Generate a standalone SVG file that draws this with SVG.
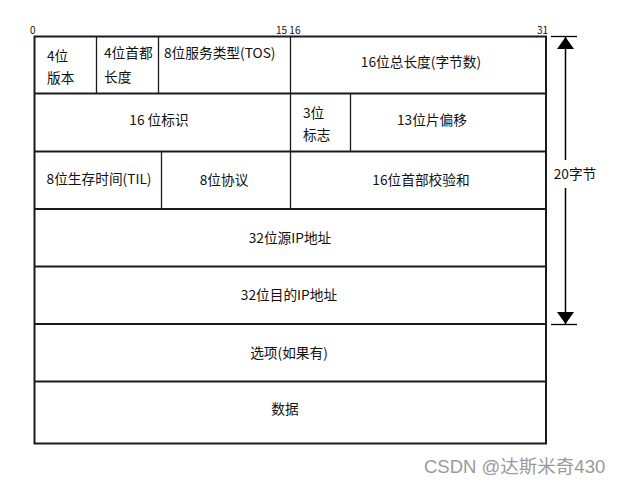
<svg xmlns="http://www.w3.org/2000/svg" width="626" height="483" viewBox="0 0 626 483">
<style>
text{font-family:"Noto Sans CJK SC","Microsoft YaHei",sans-serif;font-size:13.7px;fill:#111;}
.c{text-anchor:middle;}
.s{font-size:10px;}
.h{stroke:#1a1a1a;stroke-width:2;fill:none;}
.v{stroke:#1a1a1a;stroke-width:1.3;fill:none;}
.wm{fill:#9a9a9a;font-size:18.5px;font-family:"Liberation Sans","Noto Sans CJK SC",sans-serif;}
</style>
<defs>
<marker id="tri" markerWidth="13" markerHeight="18" refX="12" refY="8.5" orient="auto" markerUnits="userSpaceOnUse"><path d="M0,0 L12,8.5 L0,17 Z" fill="#000"/></marker>
</defs>
<rect width="626" height="483" fill="#fff"/>
<g id="scale">
<text class="s" x="30" y="34">0</text>
<text class="s" x="276" y="34">15 16</text>
<text class="s" x="537" y="34">31</text>
</g>
<g id="frame">
<rect x="34.5" y="36.5" width="511.5" height="407" class="h"/>
<line class="h" x1="34.5" y1="93.5" x2="546" y2="93.5"/>
<line class="h" x1="34.5" y1="151.5" x2="546" y2="151.5"/>
<line class="h" x1="34.5" y1="209" x2="546" y2="209"/>
<line class="h" x1="34.5" y1="266.5" x2="546" y2="266.5"/>
<line class="h" x1="34.5" y1="324" x2="546" y2="324"/>
<line class="h" x1="34.5" y1="381.5" x2="546" y2="381.5"/>
<line class="v" x1="96.5" y1="36.5" x2="96.5" y2="93.5"/>
<line class="v" x1="158.5" y1="36.5" x2="158.5" y2="93.5"/>
<line class="v" x1="290.5" y1="36.5" x2="290.5" y2="209"/>
<line class="v" x1="350.5" y1="93.5" x2="350.5" y2="151.5"/>
<line class="v" x1="161.5" y1="151.5" x2="161.5" y2="209"/>
</g>
<g id="version"><text x="47" y="61">4位</text><text x="47" y="83">版本</text></g>
<g id="ihl"><text x="104" y="58">4位首都</text><text x="104" y="82">长度</text></g>
<g id="tos"><text x="164" y="58">8位服务类型(TOS)</text></g>
<g id="totallen"><text class="c" x="421" y="67">16位总长度(字节数)</text></g>
<g id="ident"><text class="c" x="159" y="125">16 位标识</text></g>
<g id="flags"><text x="303" y="118">3位</text><text x="303" y="140">标志</text></g>
<g id="fragoff"><text class="c" x="432" y="125">13位片偏移</text></g>
<g id="ttl"><text class="c" x="99" y="184">8位生存时间(TIL)</text></g>
<g id="proto"><text class="c" x="224" y="185">8位协议</text></g>
<g id="checksum"><text class="c" x="421" y="185">16位首部校验和</text></g>
<g id="srcip"><text class="c" x="290" y="243">32位源IP地址</text></g>
<g id="dstip"><text class="c" x="289" y="300">32位目的IP地址</text></g>
<g id="options"><text class="c" x="289" y="358">选项(如果有)</text></g>
<g id="data"><text class="c" x="285" y="414">数据</text></g>
<g id="connectors">
<line x1="551" y1="36.5" x2="577" y2="36.5" stroke="#000" stroke-width="1.3"/>
<line x1="551" y1="324.5" x2="577" y2="324.5" stroke="#000" stroke-width="1.3"/>
<line x1="565.5" y1="160" x2="565.5" y2="37" stroke="#000" stroke-width="1.5" marker-end="url(#tri)"/>
<line x1="565.5" y1="188" x2="565.5" y2="324" stroke="#000" stroke-width="1.5" marker-end="url(#tri)"/>
</g>
<g id="bytes-label"><text class="c" x="575" y="179">20字节</text></g>
<text class="wm" x="424" y="473">CSDN @达斯米奇430</text>
</svg>
